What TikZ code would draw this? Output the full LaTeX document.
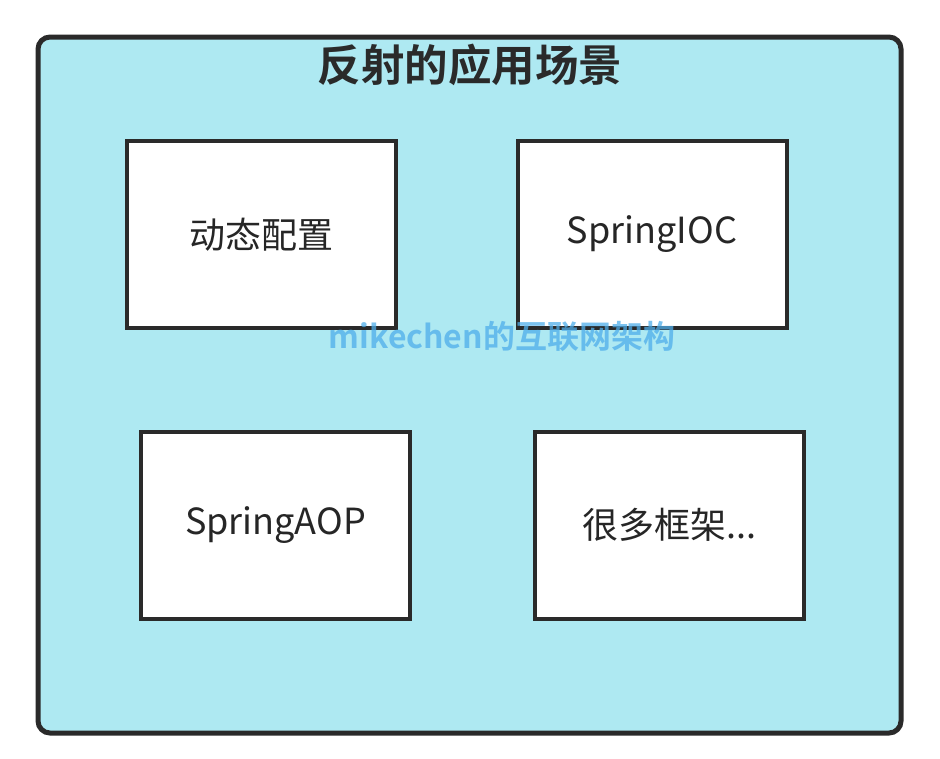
\documentclass[tikz,border=0pt]{standalone}
\usepackage{fontspec}
\setmainfont{Noto Sans CJK SC}
\newfontfamily\cjkbold{Noto Sans CJK SC Bold}
\definecolor{panel}{HTML}{AEE9F2}
\definecolor{edge}{HTML}{2A2A2A}
\definecolor{wmark}{HTML}{4FAEEA}
\begin{document}
\begin{tikzpicture}[x=1pt,y=-1pt,
  card/.style={draw=edge,line width=4pt,fill=white,minimum width=269pt,minimum height=187pt,inner sep=0pt,font=\fontsize{36}{40}\selectfont,text=black!85}]
\useasboundingbox (0,0) rectangle (940,758);
\fill[white] (0,0) rectangle (940,758);
\draw[edge,line width=5pt,fill=panel,rounded corners=12pt] (38,37) rectangle (901,733);
\node (title) at (470,65) {\cjkbold\fontsize{43.5}{46}\selectfont\color{edge}反射的应用场景};
\node[card] (dyn) at (261.5,234.5) {动态配置};
\node[card] (ioc) at (652,234.5) {SpringIOC};
\node[card] (aop) at (275.5,525) {SpringAOP};
\node[card] (more) at (669.5,525) {很多框架...};
\node[text=wmark,opacity=0.75] (wm) at (502,337) {\cjkbold\fontsize{32}{35}\selectfont mikechen的互联网架构};
\end{tikzpicture}
\end{document}
